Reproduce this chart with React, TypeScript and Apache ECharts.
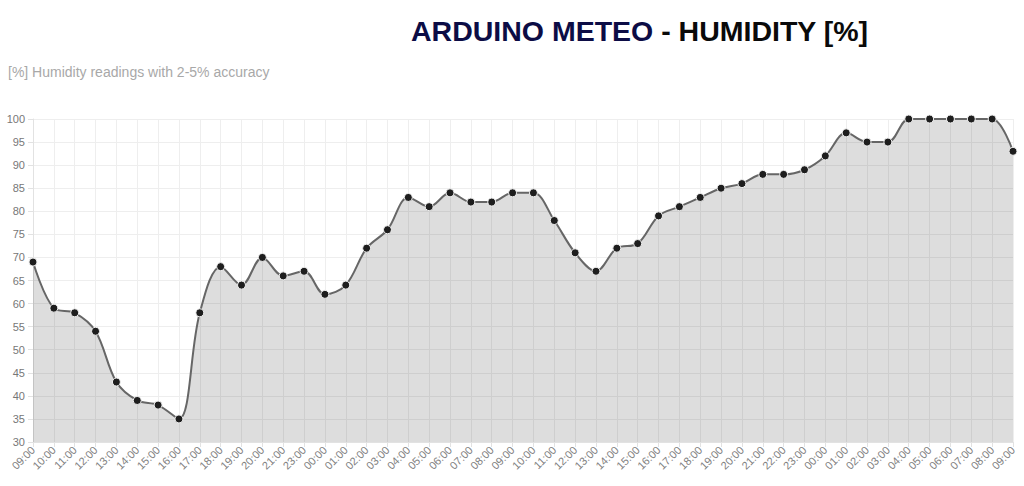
import React, { useEffect, useRef } from "react";
import * as echarts from "echarts";

const categories = [
  "09:00","10:00","11:00","12:00","13:00","14:00","15:00","16:00","17:00","18:00","19:00","20:00","21:00","23:00",
  "00:00","01:00","02:00","03:00","04:00","05:00","06:00","07:00","08:00","09:00",
  "10:00","11:00","12:00","13:00","14:00","15:00","16:00","17:00","18:00","19:00","20:00","21:00","22:00","23:00",
  "00:00","01:00","02:00","03:00","04:00","05:00","06:00","07:00","08:00","09:00",
];

const humidity = [
  69, 59, 58, 54, 43, 39, 38, 35, 58, 68, 64, 70, 66, 67,
  62, 64, 72, 76, 83, 81, 84, 82, 82, 84,
  84, 78, 71, 67, 72, 73, 79, 81, 83, 85, 86, 88, 88, 89,
  92, 97, 95, 95, 100, 100, 100, 100, 100, 93,
];

const yTicks = { min: 30, max: 100, interval: 5 };

export default function App() {
  const ref = useRef<HTMLDivElement>(null);
  useEffect(() => {
    if (!ref.current) return;
    const chart = echarts.init(ref.current, null, { renderer: "svg" });
    chart.setOption({
      animation: false,
      backgroundColor: "#fff",
      title: [
        {
          text: "{a|ARDUINO METEO}{b| - HUMIDITY [%]}",
          left: 406,
          top: 11,
          textStyle: {
            rich: {
              a: { fontFamily: "Liberation Sans, Arial, sans-serif", fontWeight: "bold", fontSize: 28.5, color: "#0c0c45" },
              b: { fontFamily: "Liberation Sans, Arial, sans-serif", fontWeight: "bold", fontSize: 28.5, color: "#0a0a0a" },
            },
          },
        },
        {
          text: "[%] Humidity readings with 2-5% accuracy",
          left: 3,
          top: 60,
          textStyle: { fontFamily: "Liberation Sans, Arial, sans-serif", fontWeight: "normal", fontSize: 14, color: "#a8a8a8" },
        },
      ],
      grid: { left: 33, right: 11, top: 119, bottom: 44, containLabel: false },
      xAxis: {
        type: "category",
        data: categories,
        boundaryGap: false,
        axisLine: { show: true, lineStyle: { color: "#e2e2e2" } },
        axisTick: { show: true, length: 5, lineStyle: { color: "#e2e2e2" } },
        axisLabel: {
          interval: 0,
          rotate: 45,
          color: "#808080",
          fontSize: 11,
          fontFamily: "Liberation Sans, Arial, sans-serif",
          margin: 6,
        },
        splitLine: { show: true, lineStyle: { color: "#eeeeee" } },
      },
      yAxis: {
        type: "value",
        min: yTicks.min,
        max: yTicks.max,
        interval: yTicks.interval,
        axisLine: { show: true, lineStyle: { color: "#e2e2e2" } },
        axisTick: { show: true, length: 5, lineStyle: { color: "#e2e2e2" } },
        axisLabel: { color: "#777", fontSize: 11, fontFamily: "Liberation Sans, Arial, sans-serif", margin: 8 },
        splitLine: { show: true, lineStyle: { color: "#eeeeee" } },
      },
      series: [
        {
          type: "line",
          data: humidity,
          smooth: 0.35,
          symbol: "circle",
          symbolSize: 8,
          lineStyle: { color: "#666", width: 2 },
          itemStyle: { color: "#1e1e1e", borderColor: "#f0f0f0", borderWidth: 1 },
          areaStyle: { color: "rgba(0,0,0,0.19)" },
        },
      ],
    });
    return () => chart.dispose();
  }, []);
  return <div ref={ref} style={{ width: 1024, height: 486, position: "absolute", left: 0, top: 0 }} />;
}
